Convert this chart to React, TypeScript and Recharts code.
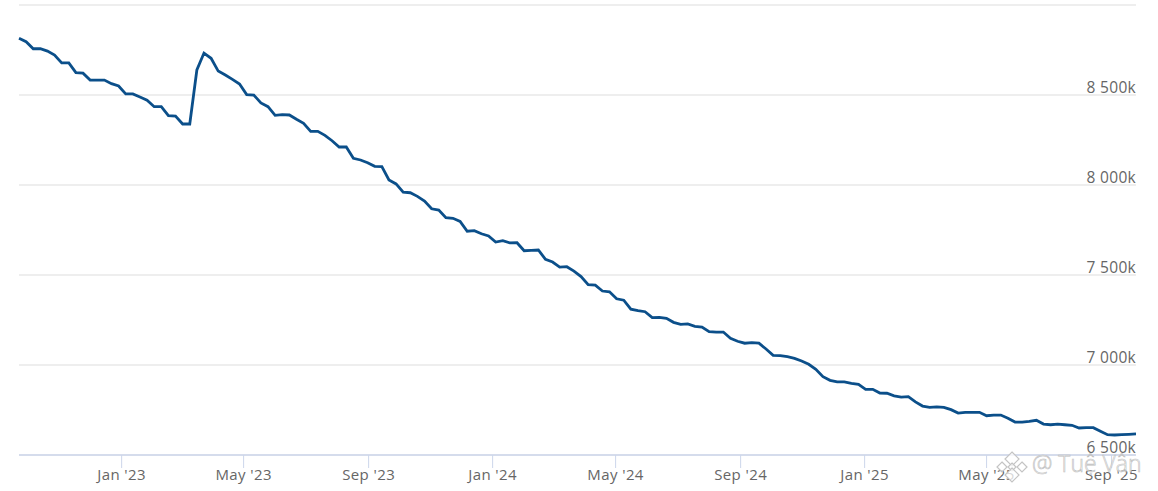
import React from 'react';
import { LineChart, Line, XAxis, YAxis, CartesianGrid } from 'recharts';

// weekly readings, in thousands, starting at the week below
const START_DATE = Date.UTC(2022, 8, 22);
const WEEK_MS = 7 * 24 * 3600 * 1000;

const VALUES = [
  8815, 8796, 8757, 8757, 8744, 8722, 8678, 8678, 8624, 8621,
  8583, 8583, 8583, 8563, 8550, 8506, 8506, 8489, 8471, 8435,
  8435, 8385, 8383, 8339, 8339, 8639, 8733, 8704, 8633, 8611,
  8587, 8561, 8502, 8500, 8456, 8435, 8387, 8391, 8389, 8365,
  8343, 8298, 8298, 8276, 8246, 8211, 8211, 8148, 8139, 8124,
  8104, 8102, 8028, 8006, 7960, 7957, 7937, 7911, 7868, 7861,
  7818, 7815, 7798, 7743, 7746, 7729, 7717, 7683, 7691, 7678,
  7679, 7635, 7637, 7639, 7587, 7572, 7544, 7546, 7522, 7491,
  7446, 7444, 7411, 7407, 7368, 7360, 7310, 7302, 7296, 7263,
  7265, 7259, 7237, 7226, 7228, 7215, 7211, 7185, 7183, 7183,
  7148, 7132, 7121, 7124, 7121, 7089, 7054, 7052, 7046, 7037,
  7022, 7004, 6976, 6935, 6915, 6906, 6906, 6898, 6893, 6865,
  6865, 6844, 6843, 6829, 6822, 6824, 6795, 6772, 6765, 6767,
  6765, 6752, 6733, 6737, 6737, 6737, 6718, 6721, 6722, 6704,
  6683, 6683, 6687, 6693, 6672, 6668, 6671, 6668, 6665, 6650,
  6652, 6652, 6632, 6613, 6611, 6613, 6615, 6617,
];

const X_TICKS = [
  Date.UTC(2023, 0, 1),
  Date.UTC(2023, 4, 1),
  Date.UTC(2023, 8, 1),
  Date.UTC(2024, 0, 1),
  Date.UTC(2024, 4, 1),
  Date.UTC(2024, 8, 1),
  Date.UTC(2025, 0, 1),
  Date.UTC(2025, 4, 1),
  Date.UTC(2025, 8, 1),
];
const Y_TICKS = [6500, 7000, 7500, 8000, 8500, 9000];
const MONTHS = ['Jan', 'Feb', 'Mar', 'Apr', 'May', 'Jun', 'Jul', 'Aug', 'Sep', 'Oct', 'Nov', 'Dec'];

const data = VALUES.map((value, i) => ({ date: START_DATE + i * WEEK_MS, value }));

const FONT = '"Open Sans", sans-serif';

const formatDate = (t: number) => {
  const d = new Date(t);
  return `${MONTHS[d.getUTCMonth()]} '${String(d.getUTCFullYear()).slice(2)}`;
};

// labels sit inside the plot, right aligned, just above their grid line
const renderYTick = ({ y, payload }: any) => {
  if (payload.value === 9000) return <g />;
  const s = String(payload.value);
  return (
    <text x={1136} y={y - 2.5} textAnchor="end" fontFamily={FONT} fontSize={15.5} letterSpacing={0.3} fill="#666666">
      {`${s[0]} ${s.slice(1)}k`}
    </text>
  );
};

export default function App() {
  return (
    <div style={{ position: 'absolute', left: 0, top: 0, width: 1158, height: 491, background: '#fff' }}>
      <LineChart
        width={1158}
        height={491}
        data={data}
        margin={{ top: 5, right: 22, bottom: 0, left: 19 }}
      >
        <CartesianGrid horizontal vertical={false} stroke="#e8e8e8" strokeWidth={1.5} />
        <XAxis
          dataKey="date"
          type="number"
          scale="time"
          domain={['dataMin', 'dataMax']}
          ticks={X_TICKS}
          tickFormatter={formatDate}
          tick={{ fontFamily: FONT, fontSize: 15, letterSpacing: 0.4, fill: '#666666' }}
          tickLine={{ stroke: '#ccd6eb' }}
          tickSize={13}
          tickMargin={1}
          axisLine={{ stroke: '#ccd6eb', strokeWidth: 1.5 }}
          interval={0}
          height={36}
        />
        <YAxis
          orientation="right"
          mirror
          domain={[6500, 9000]}
          ticks={Y_TICKS}
          tick={renderYTick}
          tickLine={false}
          axisLine={false}
          width={60}
          interval={0}
        />
        <Line
          dataKey="value"
          type="linear"
          stroke="#0b4f8a"
          strokeWidth={2.8}
          dot={false}
          isAnimationActive={false}
        />
      </LineChart>
      {/* watermark: logo and name */}
      <svg
        width={36}
        height={36}
        viewBox="0 0 36 36"
        style={{ position: 'absolute', left: 994, top: 449 }}
      >
        <g fill="#ffffff" fillOpacity={0.75} stroke="#c4c4c4" strokeWidth={1.2}>
          <path d="M18 3 L25 10 L18 17 L11 10 Z" />
          <path d="M8 13 L13 18 L8 23 L3 18 Z" />
          <path d="M28 13 L33 18 L28 23 L23 18 Z" />
          <path d="M18 14 L22 18 L18 22 L14 18 Z" />
          <path d="M18 19 L25 26 L18 33 L11 26 Z" />
        </g>
      </svg>
      <div
        style={{
          position: 'absolute',
          left: 1032,
          top: 447,
          fontFamily: FONT,
          fontSize: 23,
          fontWeight: 300,
          color: 'rgba(255,255,255,0.7)',
          WebkitTextStroke: '0.6px #bdbdbd',
          whiteSpace: 'nowrap',
        }}
      >
        @ Tuệ Vân
      </div>
    </div>
  );
}
